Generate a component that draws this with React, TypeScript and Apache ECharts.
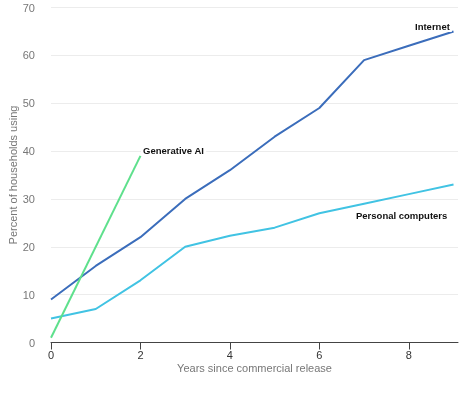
import React, { useEffect, useRef } from "react";
import * as echarts from "echarts";

const years = [0, 1, 2, 3, 4, 5, 6, 7, 8, 9];
const internet = [9, 16, 22, 30, 36, 43, 49, 59, 62, 65];
const personalComputers = [5, 7, 13, 20, 22.3, 24, 27, 29, 31, 33];
const genAiYears = [0, 2];
const genAi = [1, 39];
const xTickLabels = [0, 2, 4, 6, 8];

const FONT = "Liberation Sans, Arial, sans-serif";

export default function App() {
  const ref = useRef<HTMLDivElement>(null);
  useEffect(() => {
    const chart = echarts.init(ref.current!, null, { renderer: "svg" });
    const pair = (xs: number[], ys: number[]) => xs.map((x, i) => [x, ys[i]]);
    const labelStyle = (text: string) => ({
      text,
      fill: "#111",
      font: `bold 9.5px ${FONT}`,
      backgroundColor: "#fff",
      padding: [1, 2, 1, 2],
    });
    chart.setOption({
      animation: false,
      textStyle: { fontFamily: FONT },
      grid: { left: 51, right: 16, top: 7.5, bottom: 52.5, containLabel: false, outerBoundsMode: "none" },
      xAxis: {
        type: "value",
        min: 0,
        max: 9.1,
        interval: 2,
        name: "Years since commercial release",
        nameLocation: "middle",
        nameGap: 19.5,
        nameMoveOverlap: false,
        nameTextStyle: { color: "#777", fontSize: 11, fontFamily: FONT },
        axisLine: { show: true, lineStyle: { color: "#444", width: 1 } },
        axisTick: { show: true, length: 7, lineStyle: { color: "#444" }, customValues: xTickLabels },
        axisLabel: { color: "#333", fontSize: 11, margin: 7, fontFamily: FONT, customValues: xTickLabels },
        splitLine: { show: false },
      },
      yAxis: {
        type: "value",
        min: 0,
        max: 70,
        interval: 10,
        name: "Percent of households using",
        nameLocation: "middle",
        nameGap: 33,
        nameMoveOverlap: false,
        nameTextStyle: { color: "#777", fontSize: 11, fontFamily: FONT },
        axisLine: { show: false },
        axisTick: { show: false },
        axisLabel: { color: "#777", fontSize: 11, margin: 16, fontFamily: FONT },
        splitLine: { show: true, lineStyle: { color: "#ececec", width: 1 } },
      },
      series: [
        {
          name: "Internet",
          type: "line",
          data: pair(years, internet),
          showSymbol: false,
          lineStyle: { color: "#3b6dbb", width: 2 },
          itemStyle: { color: "#3b6dbb" },
        },
        {
          name: "Personal computers",
          type: "line",
          data: pair(years, personalComputers),
          showSymbol: false,
          lineStyle: { color: "#41c3e3", width: 2 },
          itemStyle: { color: "#41c3e3" },
        },
        {
          name: "Generative AI",
          type: "line",
          data: pair(genAiYears, genAi),
          showSymbol: false,
          lineStyle: { color: "#5ee08c", width: 2 },
          itemStyle: { color: "#5ee08c" },
        },
      ],
      graphic: [
        { type: "text", left: 413, top: 20, z: 100, style: labelStyle("Internet") },
        { type: "text", left: 141, top: 144, z: 100, style: labelStyle("Generative AI") },
        { type: "text", left: 354, top: 209, z: 100, style: labelStyle("Personal computers") },
      ],
    });
    return () => chart.dispose();
  }, []);
  return (
    <div
      ref={ref}
      style={{ position: "fixed", left: 0, top: 0, width: 474, height: 395 }}
    />
  );
}
